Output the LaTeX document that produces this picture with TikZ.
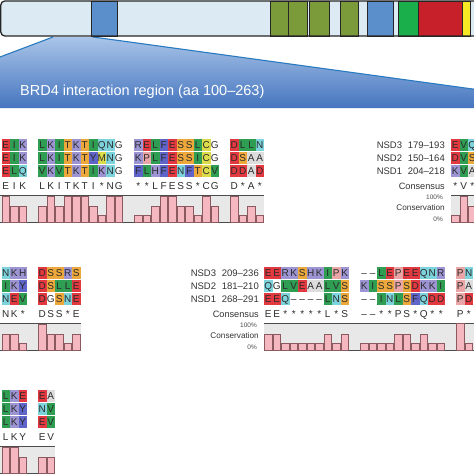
\documentclass[tikz,border=0pt]{standalone}
\usepackage{fontspec}
\setmainfont{Liberation Sans}
\definecolor{aared}{HTML}{E2383F}
\definecolor{aalav}{HTML}{9D95D3}
\definecolor{aaorg}{HTML}{ECA83A}
\definecolor{aacyn}{HTML}{7DD3DC}
\definecolor{aagrn}{HTML}{2F9D52}
\definecolor{aablu}{HTML}{5F64C8}
\definecolor{aayel}{HTML}{DCDC4A}
\definecolor{aapnk}{HTML}{EAA6A6}
\definecolor{aagry}{HTML}{DDDDDD}
\definecolor{aatext}{HTML}{2B2B2B}
\definecolor{barpink}{HTML}{F5B7C0}
\definecolor{baredge}{HTML}{8B5A60}
\definecolor{barbg}{HTML}{E8E8E8}
\definecolor{protlight}{HTML}{DCEBF3}
\definecolor{protblue}{HTML}{5B8FCB}
\definecolor{protolive}{HTML}{7B9A3A}
\definecolor{protgreen}{HTML}{1AAF4B}
\definecolor{protred}{HTML}{C8202A}
\definecolor{protyellow}{HTML}{F7E826}
\definecolor{bantop}{HTML}{A9C4E8}
\definecolor{banbot}{HTML}{4575BF}
\definecolor{banedge}{HTML}{2A7AC0}
% residue colours
\newcommand{\aamap}[2]{\expandafter\def\csname aa@#1\endcsname{#2}}
\aamap{E}{aared}\aamap{D}{aared}
\aamap{K}{aalav}\aamap{R}{aalav}\aamap{H}{aalav}
\aamap{S}{aaorg}\aamap{T}{aaorg}
\aamap{N}{aacyn}\aamap{Q}{aacyn}
\aamap{L}{aagrn}\aamap{I}{aagrn}\aamap{V}{aagrn}
\aamap{F}{aablu}\aamap{Y}{aablu}\aamap{W}{aablu}
\aamap{C}{aayel}\aamap{M}{aayel}
\aamap{P}{aapnk}\aamap{A}{aagry}
\tikzset{
  aa/.code={\ifcsname aa@#1\endcsname\edef\aafill{\csname aa@#1\endcsname}\pgfkeysalso{fill=\aafill}\fi},
  cell/.style={inner sep=0pt,minimum width=8.5pt,minimum height=12.6pt,text height=7.2pt,text depth=0pt,text=aatext,font=\fontsize{10}{10}\selectfont},
  cons/.style={inner sep=0pt,text height=7.2pt,text depth=0pt,text=aatext,font=\fontsize{10}{10}\selectfont},
  bar/.style={fill=barpink,draw=baredge,line width=0.5pt},
  boxline/.style={draw=black!70,line width=0.8pt},
  lbl/.style={inner sep=0pt,text=black!80,font=\fontsize{9.5}{10}\selectfont},
  lbl-cons/.style={inner sep=0pt,text=black!80,font=\fontsize{9.2}{10}\selectfont},
  lbl-cnsv/.style={inner sep=0pt,text=black!80,font=\fontsize{8.2}{9}\selectfont},
  pct/.style={inner sep=0pt,text=black!70,font=\fontsize{6.5}{7}\selectfont},
  seg/.style={draw=black!85,line width=0.8pt},
  protbar-line/.style={draw=black!85,line width=1.3pt},
  banedge-line/.style={draw=banedge,line width=1.1pt},
  banner-text/.style={inner sep=0pt,text=white,font=\fontsize{14.5}{16}\selectfont},
}
% one aligned block: name, left x, y of first row, columns r1/r2/r3/consensus/bar
\newcommand{\aablock}[4]{%
  \foreach \ra/\rb/\rc/\cs/\hb [count=\i] in {#4} {
    \pgfmathsetmacro{\cx}{#2+(\i-0.5)*8.5}
    \node[cell,aa=\ra] (#1-\i-1) at (\cx,#3)    {\ra};
    \node[cell,aa=\rb] (#1-\i-2) at (\cx,#3+13) {\rb};
    \node[cell,aa=\rc] (#1-\i-3) at (\cx,#3+26) {\rc};
    \node[cons]        (#1-\i-c) at (\cx,#3+41) {\cs};
    \draw[bar] (\cx-3.9,#3+77) rectangle (\cx+3.9,#3+77-\hb);
  }}
\begin{document}
\begin{tikzpicture}[x=1pt,y=-1pt]
  \useasboundingbox (0,0) rectangle (474,474);
  \clip (0,0) rectangle (474,474);

  % BANNER: zoom of the BRD4 interaction region
  \shade[top color=bantop,bottom color=banbot] (53,37) -- (93,37) -- (480,90) -- (480,108) -- (0,108) -- (0,57) -- cycle;
  \draw[banedge-line] (0,57) -- (53,37);
  \draw[banedge-line] (93,37) -- (480,90);
  \node[banner-text,anchor=base west] (brd4) at (20,95) {BRD4 interaction region (aa 100–263)};

  % PROTEIN BAR with domains
  \fill[protlight,rounded corners=4] (0.8,1) rectangle (490,36);
  \draw[seg,fill=protblue]   (91,1)    rectangle (117,36);
  \draw[seg,fill=protolive]  (270,1)   rectangle (288.5,36);
  \draw[seg,fill=protolive]  (288.5,1) rectangle (307.5,36);
  \draw[seg,fill=protolive]  (309.5,1) rectangle (329,36);
  \draw[seg,fill=protolive]  (340,1)   rectangle (358,36);
  \draw[seg,fill=protblue]   (367,1)   rectangle (393,36);
  \draw[seg,fill=protgreen]  (398.5,1) rectangle (418,36);
  \draw[seg,fill=protred]    (418,1)   rectangle (462,36);
  \draw[seg,fill=protyellow] (462,1)   rectangle (470,36);
  \draw[protbar-line,rounded corners=4] (490,1) -- (0.8,1) -- (0.8,36) -- (490,36);

  % PANEL 1: NSD 179-193 and flanking
  \fill[barbg] (0,195) rectangle (264,222);
  \fill[barbg] (451,195) rectangle (480,222);
  \draw[boxline] (0,195) -- (264,195) (0,222) -- (264,222);
  \draw[boxline] (451,195) -- (480,195) (451,222) -- (480,222);
  \aablock{p1a}{1.5}{145}{E/E/E/E/26, I/I/L/I/16, K/K/Q/K/16}
  \aablock{p1b}{38}{145}{L/L/V/L/16, K/K/K/K/26, I/I/V/I/16, T/T/T/T/26, K/K/K/K/26,
    T/T/T/T/26, I/Y/I/I/16, Q/M/K/*/7, N/N/N/N/26, G/G/G/G/26}
  \aablock{p1c}{134}{145}{R/K/F/*/7, E/P/L/*/7, L/L/H/L/16, F/F/F/F/26, E/E/E/E/26,
    S/S/N/S/16, S/S/F/S/16, L/I/T/*/7, C/C/C/C/26, G/G/V/G/16}
  \aablock{p1d}{230}{145}{D/D/D/D/26, L/S/D/*/7, L/A/A/A/16, N/A/D/*/7}
  \aablock{p1e}{451}{145}{E/D/K/*/7, V/V/V/V/26, Q/S/A/*/16}
  \node[lbl,anchor=east]      (p1-nsd3) at (445,145) {NSD3\hspace{0.6em}179–193};
  \node[lbl,anchor=east]      (p1-nsd2) at (445,158) {NSD2\hspace{0.6em}150–164};
  \node[lbl,anchor=east]      (p1-nsd1) at (445,171) {NSD1\hspace{0.6em}204–218};
  \node[lbl-cons,anchor=east] (p1-cons) at (445,186) {Consensus};
  \node[pct,anchor=east]      (p1-100)  at (443,197) {100\%};
  \node[lbl-cnsv,anchor=east] (p1-cnsv) at (445,208) {Conservation};
  \node[pct,anchor=east]      (p1-0)    at (443,219) {0\%};

  % PANEL 2: NSD 209-236 and flanking
  \fill[barbg] (0,323) rectangle (80.5,350);
  \fill[barbg] (264,323) rectangle (480,350);
  \draw[boxline] (0,323) -- (80.5,323) (0,350) -- (80.5,350);
  \draw[boxline] (264,323) -- (480,323) (264,350) -- (480,350);
  \aablock{p2a}{1.5}{273}{N/I/N/N/16, K/K/E/K/16, H/Y/V/*/7}
  \aablock{p2b}{38}{273}{D/D/D/D/26, S/S/G/S/16, S/L/S/S/16, R/L/N/*/7, S/E/E/E/16}
  \aablock{p2c}{264}{273}{E/Q/E/E/16, E/G/E/E/16, R/L/Q/*/7, K/V/–/*/7, S/E/–/*/7,
    H/A/–/*/7, K/A/–/*/7, I/L/L/L/16, P/V/N/*/7, K/S/S/S/16}
  \aablock{p2d}{360}{273}{–/K/–/–/7, –/I/–/–/7, L/S/I/*/7, E/S/N/*/7, P/P/L/P/16,
    E/S/S/S/16, E/D/F/*/7, Q/K/Q/Q/16, N/K/D/*/7, R/I/D/*/7}
  \aablock{p2e}{456}{273}{P/P/P/P/27, N/A/D/*/7}
  \node[lbl,anchor=east]      (p2-nsd3) at (259,273) {NSD3\hspace{0.6em}209–236};
  \node[lbl,anchor=east]      (p2-nsd2) at (259,286) {NSD2\hspace{0.6em}181–210};
  \node[lbl,anchor=east]      (p2-nsd1) at (259,299) {NSD1\hspace{0.6em}268–291};
  \node[lbl-cons,anchor=east] (p2-cons) at (259,314) {Consensus};
  \node[pct,anchor=east]      (p2-100)  at (257,325) {100\%};
  \node[lbl-cnsv,anchor=east] (p2-cnsv) at (259,336) {Conservation};
  \node[pct,anchor=east]      (p2-0)    at (257,347) {0\%};

  % PANEL 3: last row, left part only
  \fill[barbg] (0,446) rectangle (55,473);
  \draw[boxline] (0,446) -- (55,446) (0,473) -- (55,473);
  \aablock{p3a}{1.5}{396}{L/L/L/L/26, K/K/K/K/26, E/Y/Y/Y/16}
  \aablock{p3b}{38}{396}{E/N/E/E/16, A/V/V/V/16}

\end{tikzpicture}
\end{document}
